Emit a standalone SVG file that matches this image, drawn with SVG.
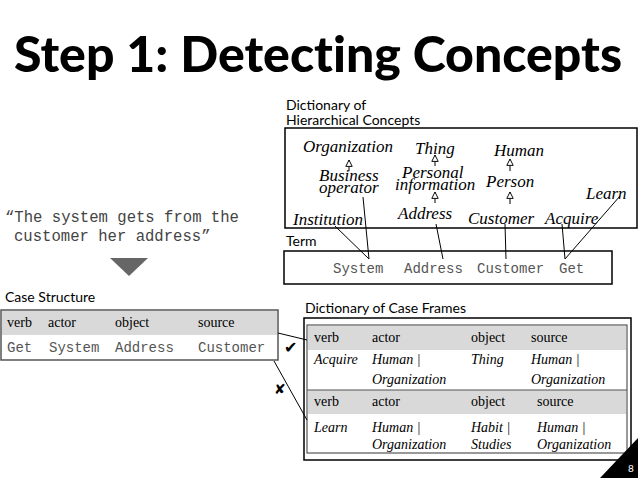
<svg xmlns="http://www.w3.org/2000/svg" width="638" height="478" viewBox="0 0 638 478">
<style>
.s{font-family:"Lato","Noto Sans",sans-serif;font-size:14px;fill:#000}
.c{font-family:"Liberation Serif",serif;font-style:italic;font-size:17px;fill:#000}
.m{font-family:"Liberation Mono",monospace;font-size:14px;fill:#555}
.q{font-family:"Liberation Mono",monospace;font-size:15.6px;fill:#444}
.t{font-family:"Liberation Serif",serif;font-size:14px;fill:#000}
.ti{font-family:"Liberation Serif",serif;font-style:italic;font-size:14px;fill:#000}
.ln{stroke:#000;stroke-width:1;fill:none}
.box{fill:#fff;stroke:#000;stroke-width:1.5}
</style>
<defs><marker id="h" viewBox="0 0 10 10" refX="9" refY="5" markerWidth="8" markerHeight="8" orient="auto" markerUnits="userSpaceOnUse"><path d="M9,5 L1,1 L1,9 Z" fill="#fff" stroke="#000" stroke-width="1.2"/></marker></defs>
<rect width="638" height="478" fill="#fff"/>
<text x="14" y="72" font-family="Lato,sans-serif" font-weight="900" font-size="50" textLength="608" lengthAdjust="spacingAndGlyphs" style="font-variant-ligatures:none">Step 1: Detecting Concepts</text>
<g id="hier">
<text class="s" x="286" y="110">Dictionary of</text>
<text class="s" x="286" y="125">Hierarchical Concepts</text>
<rect class="box" x="285" y="128" width="352" height="100"/>
<text class="c" x="303" y="152">Organization</text>
<text class="c" x="415" y="154">Thing</text>
<text class="c" x="494" y="156">Human</text>
<text class="c" x="319" y="181">Business</text>
<text class="c" x="319" y="193">operator</text>
<text class="c" x="402" y="178">Personal</text>
<text class="c" x="395" y="190">information</text>
<text class="c" x="486" y="187">Person</text>
<text class="c" x="586" y="199">Learn</text>
<text class="c" x="293" y="225">Institution</text>
<text class="c" x="398" y="219">Address</text>
<text class="c" x="468" y="224">Customer</text>
<text class="c" x="545" y="224">Acquire</text>
</g>
<g id="term">
<text class="s" x="286" y="246">Term</text>
<rect class="box" x="284" y="251" width="328" height="33"/>
<text class="m" x="333" y="273">System</text>
<text class="m" x="404" y="273">Address</text>
<text class="m" x="477" y="273">Customer</text>
<text class="m" x="559" y="273">Get</text>
</g>
<g id="sentence">
<text class="q" x="5" y="222">“The system gets from the</text>
<text class="q" x="14" y="241">customer her address”</text>
<polygon points="110,258 148,258 129,276" fill="#666"/>
</g>
<g id="case">
<text class="s" x="5" y="302">Case Structure</text>
<rect x="1" y="310" width="277" height="50" fill="#fff" stroke="#555" stroke-width="1.5"/>
<rect x="2" y="311" width="275" height="24" fill="#d9d9d9"/>
<text class="t" x="7" y="327">verb</text><text class="t" x="48" y="327">actor</text><text class="t" x="115" y="327">object</text><text class="t" x="198" y="327">source</text>
<text class="m" x="7" y="352">Get</text><text class="m" x="49" y="352">System</text><text class="m" x="115" y="352">Address</text><text class="m" x="198" y="352">Customer</text>
</g>
<g id="frames">
<text class="s" x="305" y="313">Dictionary of Case Frames</text>
<rect class="box" x="304" y="318" width="327" height="142"/>
<rect x="307" y="325" width="320" height="128" fill="#fff" stroke="#555" stroke-width="1.2"/>
<rect x="308" y="326" width="318" height="24" fill="#d9d9d9"/>
<rect x="308" y="390" width="318" height="24" fill="#d9d9d9"/>
<line x1="307" y1="390" x2="627" y2="390" stroke="#555" stroke-width="1.2"/>
<text class="t" x="314" y="342">verb</text><text class="t" x="372" y="342">actor</text><text class="t" x="471" y="342">object</text><text class="t" x="531" y="342">source</text>
<text class="ti" x="314" y="364">Acquire</text><text class="ti" x="372" y="364">Human |</text><text class="ti" x="471" y="364">Thing</text><text class="ti" x="531" y="364">Human |</text>
<text class="ti" x="372" y="384">Organization</text><text class="ti" x="531" y="384">Organization</text>
<text class="t" x="314" y="406">verb</text><text class="t" x="372" y="406">actor</text><text class="t" x="471" y="406">object</text><text class="t" x="537" y="406">source</text>
<text class="ti" x="314" y="432">Learn</text><text class="ti" x="372" y="432">Human |</text><text class="ti" x="471" y="432">Habit |</text><text class="ti" x="537" y="432">Human |</text>
<text class="ti" x="372" y="449">Organization</text><text class="ti" x="471" y="449">Studies</text><text class="ti" x="537" y="449">Organization</text>
</g>
<g id="connectors">
<line class="ln" x1="349" y1="171" x2="349" y2="160" marker-end="url(#h)"/>
<line class="ln" x1="435" y1="166" x2="435" y2="155" marker-end="url(#h)"/>
<line class="ln" x1="435" y1="203" x2="435" y2="192" marker-end="url(#h)"/>
<line class="ln" x1="510" y1="171" x2="510" y2="159" marker-end="url(#h)"/>
<line class="ln" x1="510" y1="204" x2="510" y2="192" marker-end="url(#h)"/>
<line class="ln" x1="335" y1="226" x2="369" y2="259"/>
<line class="ln" x1="363" y1="197" x2="369" y2="259"/>
<line class="ln" x1="436" y1="224" x2="443" y2="259"/>
<line class="ln" x1="505" y1="224" x2="506" y2="259"/>
<line class="ln" x1="562" y1="224" x2="565" y2="259"/>
<line class="ln" x1="620" y1="196" x2="565" y2="259"/>
<line class="ln" x1="278" y1="333" x2="307" y2="340"/>
<line class="ln" x1="274" y1="361" x2="307" y2="420"/>
<text x="284" y="353" font-family="DejaVu Sans,sans-serif" font-size="16" font-weight="bold">✔</text>
<text x="274" y="394" font-family="DejaVu Sans,sans-serif" font-size="14" font-weight="bold">✘</text>
</g>
<polygon points="600,478 638,438 638,478" fill="#000"/>
<text x="628" y="472" font-family="Lato,sans-serif" font-size="10" fill="#fff">8</text>
</svg>
